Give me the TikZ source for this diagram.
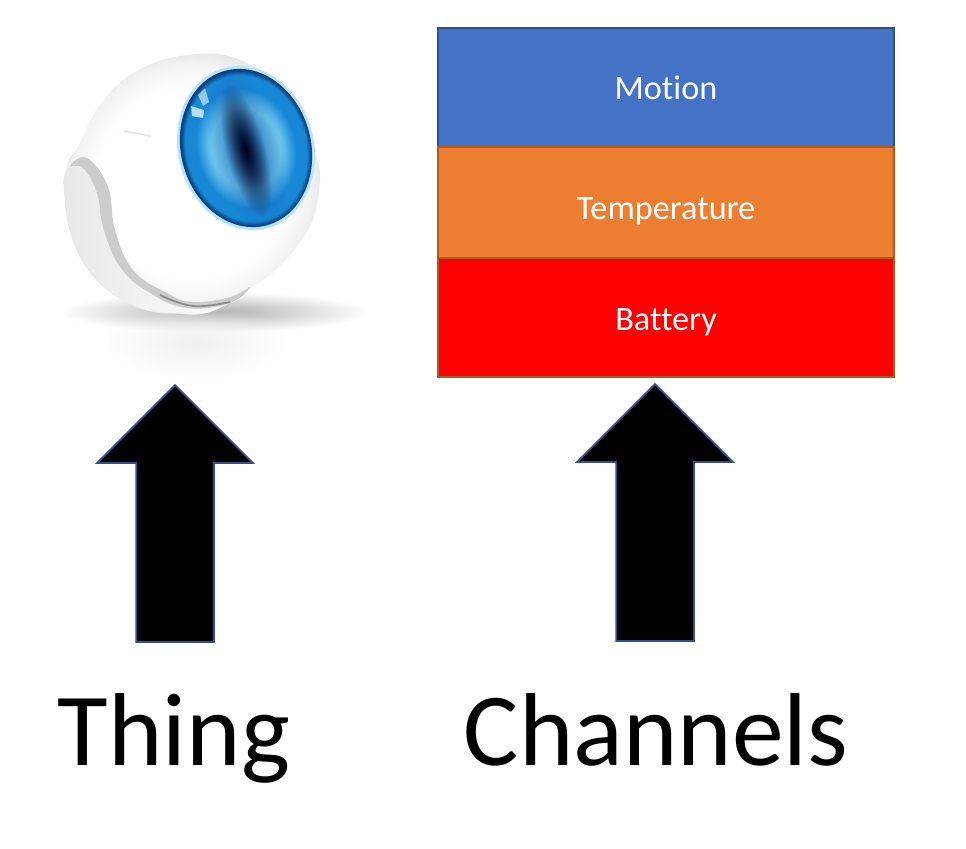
\documentclass[tikz,border=0pt]{standalone}
\usepackage{fontspec}
\setmainfont[Ligatures=NoCommon,Contextuals=NoAlternate]{Carlito}
\usetikzlibrary{positioning,shapes.arrows,fadings}
\definecolor{motionblue}{HTML}{4472C4}
\definecolor{motionedge}{HTML}{2F528F}
\definecolor{tempfill}{HTML}{ED7D31}
\definecolor{tempedge}{HTML}{AE5A21}
\definecolor{eyepale}{HTML}{74CBF0}
\definecolor{eyedeep}{HTML}{1A5CAC}
\tikzfading[name=softblob,inner color=transparent!0,outer color=transparent!100]
\pgfdeclareradialshading{eyeglass}{\pgfpoint{0bp}{0bp}}{
	rgb(0bp)=(0.45,0.80,0.94);
	rgb(13bp)=(0.45,0.80,0.94);
	rgb(19bp)=(0.09,0.53,0.84);
	rgb(23bp)=(0.09,0.53,0.84);
	rgb(24.6bp)=(0.04,0.25,0.50);
	rgb(50bp)=(0.04,0.25,0.50)}
\pgfdeclareradialshading{ballskin}{\pgfpoint{0bp}{0bp}}{
	rgb(0bp)=(1,1,1);
	rgb(18bp)=(1,1,1);
	rgb(23bp)=(0.95,0.95,0.95);
	rgb(26bp)=(0.89,0.89,0.89);
	rgb(50bp)=(0.80,0.80,0.80)}
\tikzset{
	chanbox/.style={draw,minimum width=9.12cm,outer sep=0pt,inner sep=0pt,line width=1.1pt,
		text=white,font=\fontsize{19.5}{23}\selectfont,text depth=0pt},
	uparrow/.style={draw=motionedge,fill=black,line width=1pt,shape=single arrow,rotate=90,anchor=tail,
		inner sep=0pt,outer sep=0pt,minimum height=5.14cm,text height=1.52cm,text depth=0pt,
		single arrow head extend=0.78cm,single arrow tip angle=90},
	biglabel/.style={font=\fontsize{59}{70}\selectfont,inner sep=0pt,anchor=base}
}
\begin{document}
\begin{tikzpicture}[x=0.02cm,y=-0.02cm]
	\useasboundingbox (0,0) rectangle (966,848);
	\fill [black!32,path fading=softblob] (60,292) rectangle (370,332);
	\fill [black!6,path fading=softblob] (100,305) rectangle (290,380);
	\shade [shading=ballskin] plot [smooth cycle,tension=0.7] coordinates
		{(78,147) (100,105) (135,72) (187,55) (240,60) (285,95) (314,150) (319,190) (303,238) (253,287) (183,313) (123,300) (80,257) (65,197) (68,163)};
	\shade [left color=black!9,right color=white] plot [smooth cycle,tension=0.7] coordinates
		{(67,170) (83,165) (97,193) (103,227) (120,267) (150,293) (187,308) (230,303) (250,290) (210,312) (173,313) (137,307) (100,283) (73,240) (64,193)};
	\fill [black!20] plot [smooth cycle,tension=0.7] coordinates
		{(70,166) (87,158) (108,187) (115,230) (133,270) (167,293) (193,302) (230,297) (250,287) (230,303) (187,308) (150,293) (120,267) (103,227) (97,193) (83,168)};
	\draw [black!45,line width=1pt] plot [smooth,tension=0.7] coordinates {(160,295) (193,306) (230,302)};
	\draw [black!10,line width=1pt] (124,131) -- (150,136);
	\begin{scope}[transform canvas={rotate around={15:(246,148)}}]
		\fill [eyepale!50] (246,148) ellipse (68 and 83);
		\shade [shading=eyeglass] (246,148) ellipse (65 and 80);
		\fill [eyedeep,path fading=softblob] (246,150) ellipse (36 and 82);
		\fill [black!90!blue,path fading=softblob] (245,150) ellipse (20 and 68);
	\end{scope}
	\fill [white,opacity=0.7] (191,106) -- (204,110) -- (203,118) -- (192,116) -- cycle;
	\fill [white,opacity=0.55] (198,95) -- (205,88) -- (209,102) -- (203,106) -- cycle;
	\node [chanbox,fill=motionblue,draw=motionedge,minimum height=2.38cm,text height=0.5cm] (motion) at (666,87.5) {Motion};
	\node [chanbox,fill=tempfill,draw=tempedge,minimum height=2.22cm,text height=0.7cm,below=0pt of motion] (temperature) {Temperature};
	\node [chanbox,fill=red,draw=tempedge,minimum height=2.38cm,text height=0.54cm,below=0pt of temperature] (battery) {Battery};
	\node [uparrow] (thingarrow) at (175,642) {};
	\node [uparrow] (channelarrow) at (655,641) {};
	\node [biglabel] (thing) at (174,765) {Thing};
	\node [biglabel] (channels) at (656,765) {Channels};
\end{tikzpicture}
\end{document}
